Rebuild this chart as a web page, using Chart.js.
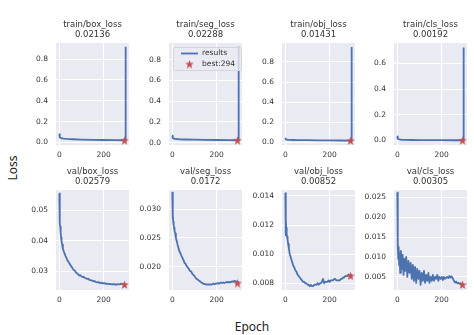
<!DOCTYPE html>
<html>
<head>
<meta charset="utf-8">
<script src="https://cdn.jsdelivr.net/npm/chart.js@4.4.0/dist/chart.umd.min.js"></script>
<style>
  html, body { margin: 0; padding: 0; background: #fff; }
  #fig { position: relative; width: 474px; height: 335px; overflow: hidden; background: #fff; }
  #fig canvas { position: absolute; }
  .axlabel { position: absolute; font-family: 'Noto Sans', sans-serif; font-size: 12px; color: #222; transform: translate(-50%, -50%); white-space: nowrap; }
  #ylab { left: 12px; top: 168px; transform: translate(-50%, -50%) rotate(-90deg); }
  #xlab { left: 252px; top: 326px; }
</style>
</head>
<body>
<div id="fig">
  <div class="axlabel" id="ylab">Loss</div>
  <div class="axlabel" id="xlab">Epoch</div>
</div>
<script>
// epochs sampled for the smooth training curves (last one is the jump)
const TRAIN_EPOCHS = [0, 1, 2, 3, 5, 8, 12, 20, 35, 60, 100, 150, 200, 250, 294, 298, 299];
const trainBox = [0.080, 0.062, 0.052, 0.048, 0.045, 0.042, 0.040, 0.037, 0.034, 0.031, 0.028, 0.026, 0.024, 0.0225, 0.02136, 0.0213, 0.92];
const trainSeg = [0.066, 0.052, 0.046, 0.043, 0.041, 0.039, 0.037, 0.035, 0.032, 0.030, 0.028, 0.026, 0.025, 0.0238, 0.02288, 0.0228, 0.925];
const trainObj = [0.036, 0.030, 0.027, 0.025, 0.024, 0.023, 0.022, 0.021, 0.020, 0.019, 0.018, 0.017, 0.016, 0.015, 0.01431, 0.0143, 0.95];
const trainCls = [0.032, 0.020, 0.015, 0.012, 0.010, 0.008, 0.007, 0.006, 0.005, 0.004, 0.0035, 0.003, 0.0025, 0.0022, 0.00192, 0.0019, 0.725];

// validation curves
const VAL_EPOCHS = [0, 1, 2, 3, 4, 6, 8, 10, 13, 16, 20, 24, 28, 32, 36, 40, 45, 50, 55, 60,
  65, 70, 75, 80, 85, 90, 95, 100, 105, 110, 115, 120, 125, 130, 135, 140, 145, 150, 155, 160,
  165, 170, 175, 180, 185, 190, 195, 200, 205, 210, 215, 220, 225, 230, 235, 240, 245, 250, 255, 260,
  265, 270, 275, 280, 285, 290, 294, 299];
const valBox = [0.0554, 0.0500, 0.0470, 0.0455, 0.0446, 0.0425, 0.0410, 0.0398, 0.0387, 0.0375, 0.0366, 0.0358, 0.0350, 0.0345, 0.0337, 0.0333, 0.0327, 0.0321, 0.0316, 0.0310,
  0.0305, 0.0303, 0.0297, 0.0294, 0.0291, 0.0287, 0.0288, 0.0284, 0.0282, 0.0283, 0.0279, 0.0278, 0.0276, 0.0277, 0.0273, 0.0272, 0.0271, 0.0270, 0.0268, 0.0269,
  0.0266, 0.0265, 0.0266, 0.0263, 0.0264, 0.0262, 0.0263, 0.0261, 0.0262, 0.0260, 0.0261, 0.0260, 0.0259, 0.0260, 0.0258, 0.0259, 0.0258, 0.0259, 0.0257, 0.0258,
  0.0259, 0.0258, 0.0259, 0.0261, 0.0259, 0.0258, 0.02579, 0.0259];
const valSeg = [0.0329, 0.0300, 0.0284, 0.0290, 0.0278, 0.0272, 0.0268, 0.0262, 0.0258, 0.0250, 0.0245, 0.0238, 0.0232, 0.0227, 0.0224, 0.0220, 0.0216, 0.0212, 0.0207, 0.0205,
  0.0201, 0.0199, 0.0196, 0.0193, 0.0192, 0.0188, 0.0186, 0.0184, 0.0181, 0.0179, 0.0178, 0.0176, 0.0175, 0.0173, 0.0172, 0.0171, 0.0170, 0.0170, 0.0169, 0.0170,
  0.0169, 0.0170, 0.0169, 0.0170, 0.0171, 0.0170, 0.0171, 0.0171, 0.0172, 0.0171, 0.0172, 0.0173, 0.0172, 0.0173, 0.0172, 0.0173, 0.0174, 0.0173, 0.0174, 0.0173,
  0.0174, 0.0175, 0.0174, 0.0176, 0.0175, 0.0174, 0.0172, 0.0175];
const valObj = [0.0142, 0.0128, 0.0113, 0.0124, 0.0118, 0.0114, 0.0112, 0.0110, 0.0107, 0.0104, 0.0100, 0.0098, 0.0096, 0.0094, 0.0092, 0.0091, 0.0089, 0.0088, 0.0086, 0.0085,
  0.0084, 0.0083, 0.0082, 0.0081, 0.0081, 0.0080, 0.0080, 0.0079, 0.0079, 0.0078, 0.0079, 0.0078, 0.0078, 0.0079, 0.0079, 0.0079, 0.0080, 0.0079, 0.0080, 0.0080,
  0.0081, 0.0083, 0.0080, 0.0081, 0.0081, 0.0081, 0.0082, 0.0081, 0.0082, 0.0082, 0.0082, 0.0083, 0.0083, 0.0082, 0.0082, 0.0082, 0.0082, 0.0083, 0.0083, 0.0084,
  0.0084, 0.0085, 0.0085, 0.0085, 0.0086, 0.0085, 0.00852, 0.0086];
const valCls = [0.0262, 0.0143, 0.0120, 0.0135, 0.0095, 0.0125, 0.0080, 0.0110, 0.0060, 0.0115, 0.0070, 0.0105, 0.0055, 0.0095, 0.0065, 0.0100, 0.0050, 0.0090, 0.0060, 0.0085,
  0.0045, 0.0080, 0.0040, 0.0075, 0.0035, 0.0070, 0.0045, 0.0065, 0.0030, 0.0060, 0.0040, 0.0065, 0.0035, 0.0055, 0.0040, 0.0060, 0.0035, 0.0050, 0.0040, 0.0055,
  0.0040, 0.0050, 0.0045, 0.0055, 0.0040, 0.0050, 0.0045, 0.0050, 0.0042, 0.0050, 0.0045, 0.0048, 0.0050, 0.0047, 0.0052, 0.0048, 0.0051, 0.0046, 0.0040, 0.0036,
  0.0038, 0.0034, 0.0035, 0.0033, 0.0034, 0.0032, 0.00305, 0.0031];

const BEST_EPOCH = 294;
const X_TICKS_STEP = 200;

const BLUE = '#4C72B0';
const RED = '#C44E52';
const FACE = '#EAEAF2';
const TEXT = '#333333';
const FONT = 'DejaVu Sans';

const PLOT_W = 73;
const LEFT_PAD = 44, TOP_PAD = 30, RIGHT_PAD = 6, BOTTOM_PAD = 18;
const X_MIN = -15, X_MAX = 314;

function starMarker(size, color) {
  const c = document.createElement('canvas');
  c.width = c.height = size;
  const g = c.getContext('2d');
  const r = size / 2, ri = r * 0.42;
  g.beginPath();
  for (let i = 0; i < 10; i++) {
    const rad = i % 2 ? ri : r;
    const a = -Math.PI / 2 + i * Math.PI / 5;
    g.lineTo(r + rad * Math.cos(a), r + 0.5 + rad * Math.sin(a));
  }
  g.closePath();
  g.fillStyle = color;
  g.fill();
  return c;
}
const star = starMarker(9, RED);

const plotBg = {
  id: 'plotBg',
  beforeDraw(chart) {
    const { ctx, chartArea: a } = chart;
    ctx.save();
    ctx.fillStyle = FACE;
    ctx.fillRect(a.left, a.top, a.width, a.height);
    ctx.restore();
  }
};

// two-line panel title: metric name and best value
const panelTitle = {
  id: 'panelTitle',
  afterDraw(chart, args, opts) {
    const { ctx, chartArea: a } = chart;
    const cx = (a.left + a.right) / 2;
    ctx.save();
    ctx.fillStyle = TEXT;
    ctx.font = `8.5px "${FONT}"`;
    ctx.textAlign = 'center';
    ctx.textBaseline = 'middle';
    ctx.fillText(opts.name, cx, a.top - 18);
    ctx.fillText(opts.value, cx, a.top - 8);
    ctx.restore();
  }
};

// boxed legend in the top right corner of the plot
const cornerLegend = {
  id: 'cornerLegend',
  afterDraw(chart) {
    const { ctx, chartArea: a } = chart;
    const w = 68, h = 23;
    const x = a.right - 1 - w, y = a.top + 4;
    ctx.save();
    ctx.beginPath();
    ctx.roundRect(x + 0.5, y + 0.5, w, h, 2);
    ctx.fillStyle = 'rgba(234,234,242,0.8)';
    ctx.fill();
    ctx.strokeStyle = '#d4d4dc';
    ctx.lineWidth = 1;
    ctx.stroke();
    ctx.strokeStyle = BLUE;
    ctx.lineWidth = 1.8;
    ctx.beginPath();
    ctx.moveTo(x + 8, y + 6.5);
    ctx.lineTo(x + 25, y + 6.5);
    ctx.stroke();
    ctx.drawImage(star, x + 12, y + 12.5);
    ctx.fillStyle = TEXT;
    ctx.font = `7.5px "${FONT}"`;
    ctx.textBaseline = 'middle';
    ctx.fillText('results', x + 29, y + 6.5);
    ctx.fillText('best:' + BEST_EPOCH, x + 29, y + 17);
    ctx.restore();
  }
};

const fig = document.getElementById('fig');

function addPanel(p) {
  const cv = document.createElement('canvas');
  cv.width = PLOT_W + LEFT_PAD + RIGHT_PAD;
  cv.height = p.h + TOP_PAD + BOTTOM_PAD;
  cv.style.left = (p.left - LEFT_PAD) + 'px';
  cv.style.top = (p.top - TOP_PAD) + 'px';
  fig.appendChild(cv);

  const best = p.values[p.epochs.indexOf(BEST_EPOCH)];
  const tickFont = { family: FONT, size: 7.5 };

  new Chart(cv, {
    type: 'line',
    data: {
      datasets: [
        {
          label: 'best:' + BEST_EPOCH,
          data: [{ x: BEST_EPOCH, y: best }],
          showLine: false,
          pointStyle: star,
          order: 0
        },
        {
          label: 'results',
          data: p.epochs.map((e, i) => ({ x: e, y: p.values[i] })),
          borderColor: BLUE,
          borderWidth: 1.8,
          borderJoinStyle: 'round',
          pointRadius: 0,
          tension: 0,
          order: 1
        }
      ]
    },
    options: {
      responsive: false,
      animation: false,
      devicePixelRatio: 1,
      layout: { padding: { top: TOP_PAD, right: RIGHT_PAD, left: 0, bottom: 0 } },
      plugins: {
        legend: { display: false },
        tooltip: { enabled: false },
        panelTitle: { name: p.name, value: String(best) }
      },
      scales: {
        x: {
          type: 'linear',
          min: X_MIN,
          max: X_MAX,
          afterFit(s) { s.height = BOTTOM_PAD; },
          grid: { color: '#ffffff', lineWidth: 1, drawTicks: false },
          border: { display: false },
          ticks: { stepSize: X_TICKS_STEP, includeBounds: false, padding: 6, maxRotation: 0, color: TEXT, font: tickFont }
        },
        y: {
          type: 'linear',
          min: p.ymin,
          max: p.ymax,
          afterFit(s) { s.width = LEFT_PAD; },
          grid: { color: '#ffffff', lineWidth: 1, drawTicks: false },
          border: { display: false },
          ticks: {
            stepSize: p.step,
            includeBounds: false,
            padding: 8,
            color: TEXT,
            font: tickFont,
            callback: v => v.toFixed(p.dec)
          }
        }
      }
    },
    plugins: p.legend ? [plotBg, panelTitle, cornerLegend] : [plotBg, panelTitle]
  });
}

const COLS = [56, 169, 282, 394];

addPanel({ name: 'train/box_loss', epochs: TRAIN_EPOCHS, values: trainBox, left: COLS[0], top: 43, h: 102, ymin: -0.024, ymax: 0.955, step: 0.2, dec: 1 });
addPanel({ name: 'train/seg_loss', epochs: TRAIN_EPOCHS, values: trainSeg, left: COLS[1], top: 43, h: 102, ymin: -0.023, ymax: 0.96, step: 0.2, dec: 1, legend: true });
addPanel({ name: 'train/obj_loss', epochs: TRAIN_EPOCHS, values: trainObj, left: COLS[2], top: 43, h: 102, ymin: -0.03, ymax: 0.99, step: 0.2, dec: 1 });
addPanel({ name: 'train/cls_loss', epochs: TRAIN_EPOCHS, values: trainCls, left: COLS[3], top: 43, h: 102, ymin: -0.035, ymax: 0.76, step: 0.2, dec: 1 });

addPanel({ name: 'val/box_loss', epochs: VAL_EPOCHS, values: valBox, left: COLS[0], top: 190, h: 100, ymin: 0.0240, ymax: 0.0565, step: 0.01, dec: 2 });
addPanel({ name: 'val/seg_loss', epochs: VAL_EPOCHS, values: valSeg, left: COLS[1], top: 190, h: 100, ymin: 0.0160, ymax: 0.0333, step: 0.005, dec: 3 });
addPanel({ name: 'val/obj_loss', epochs: VAL_EPOCHS, values: valObj, left: COLS[2], top: 190, h: 100, ymin: 0.00754, ymax: 0.01441, step: 0.002, dec: 3 });
addPanel({ name: 'val/cls_loss', epochs: VAL_EPOCHS, values: valCls, left: COLS[3], top: 190, h: 100, ymin: 0.0017, ymax: 0.0268, step: 0.005, dec: 3 });
</script>
</body>
</html>
